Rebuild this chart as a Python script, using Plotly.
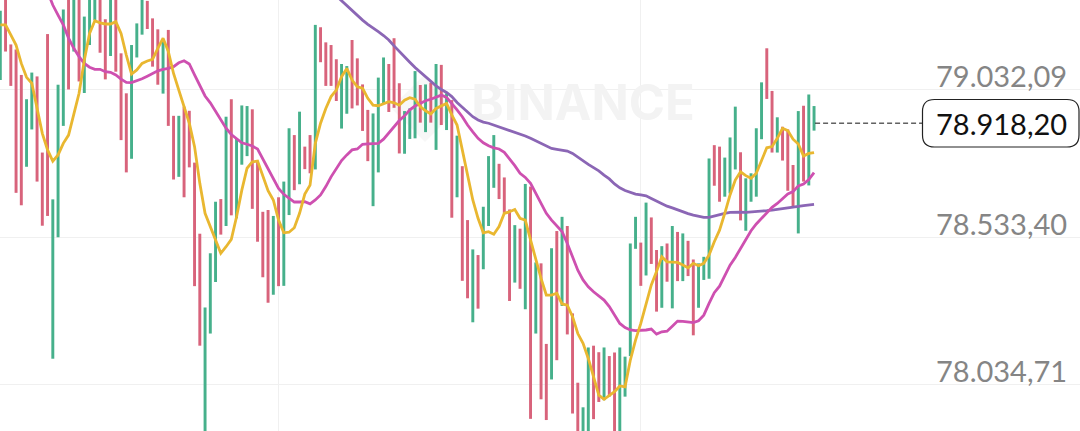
import plotly.graph_objects as go

# Price bars, one open/close pair per bar (first bar at the left edge)
bar_open = [
    79064, 79380, 79184, 79167, 79081, 78771, 78897, 79076, 78819, 79219,
    78123, 78533, 78909, 79400, 79160, 79370, 79020, 79182, 79266, 79390,
    79269, 79145, 79400, 79154, 79019, 78798, 79140, 79217, 79331, 79272,
    79235, 79018, 79233, 78943, 78737, 78974, 78960, 78785, 78545, 77840,
    78208, 78382, 78662, 78571, 78999, 78597, 78778, 78807, 78965, 78788,
    78619, 78625, 78339, 78668, 78369, 78608, 78878, 78712, 78839, 78878,
    78762, 79242, 79191, 79182, 79134, 78900, 78950, 79199, 79137, 79049,
    78963, 78638, 78752, 78985, 79118, 79205, 79053, 78815, 78865, 78867,
    79047, 78888, 79055, 78828, 79115, 78895, 78996, 78668, 78773, 78591,
    78246, 78473, 78425, 78571, 78700, 78781, 78735, 78627, 78380, 78562,
    78290, 78704, 78208, 78445, 78173, 78053, 78554, 78301, 78571, 78276,
    78042, 77840, 77850, 78167, 78145, 77983, 78132, 78144, 77840, 77995,
    78132, 78494, 78515, 78404, 78600, 78490, 78295, 78512, 78293, 78551,
    78385, 78521, 78458, 78295, 78389, 78393, 78844, 78839, 78670, 78681,
    78762, 78820, 78555, 78653, 78670, 78864, 79171, 79027, 78819, 78906,
    78897, 78777, 78546, 78977, 78708, 78893,
]
bar_close = [
    79298, 79160, 79044, 78683, 78641, 78999, 79089, 78721, 78572, 78605,
    78661, 79048, 79302, 79032, 79390, 79059, 79278, 79380, 79380, 79156,
    79066, 79380, 79092, 78861, 78752, 79182, 79255, 79370, 79236, 79109,
    79048, 79193, 78909, 78728, 78943, 78668, 78769, 78368, 78167, 78296,
    78479, 78653, 78542, 78940, 78607, 78867, 78978, 78976, 78629, 78518,
    78398, 78312, 78605, 78368, 78721, 78901, 78692, 78957, 78763, 78749,
    79250, 79124, 79044, 79044, 78993, 79118, 79111, 78968, 78978, 78892,
    78790, 78951, 79072, 79140, 78956, 78970, 78816, 78959, 78968, 79094,
    78920, 79049, 78920, 79118, 78912, 79019, 78599, 78876, 78386, 78327,
    78492, 78292, 78636, 78807, 78878, 78662, 78614, 78318, 78574, 78359,
    78713, 77920, 78448, 77986, 77916, 78496, 78118, 78602, 78205, 77938,
    77840, 77959, 78161, 77919, 77977, 78161, 77995, 77840, 78161, 78130,
    78512, 78602, 78369, 78650, 78443, 78282, 78503, 78383, 78571, 78385,
    78546, 78402, 78202, 78445, 78467, 78799, 78707, 78653, 78802, 78870,
    78974, 78590, 78732, 78749, 78901, 79056, 79000, 78819, 78938, 78792,
    78690, 78636, 78959, 78721, 79015, 78976,
]

# Moving averages, each one ends on the last bar
ma_fast = [
    79250, 79250, 79216, 79182, 79120, 79073, 79053, 78968, 78884, 78828,
    78790, 78811, 78850, 78878, 78946, 79019, 79131, 79221, 79264, 79257,
    79253, 79253, 79261, 79221, 79148, 79084, 79098, 79120, 79128, 79134,
    79171, 79205, 79160, 79086, 79030, 78974, 78918, 78839, 78715, 78614,
    78569, 78518, 78479, 78501, 78526, 78602, 78692, 78766, 78788, 78790,
    78737, 78690, 78659, 78591, 78548, 78550, 78565, 78614, 78679, 78709,
    78850, 78918, 78968, 79008, 79030, 79075, 79103, 79064, 79041, 79036,
    79002, 78979, 78977, 78983, 78991, 78987, 78979, 78996, 79004, 78999,
    78974, 78960, 78949, 78968, 78976, 78985, 78946, 78912, 78828, 78737,
    78659, 78597, 78548, 78552, 78543, 78569, 78614, 78619, 78627, 78597,
    78591, 78524, 78456, 78394, 78338, 78338, 78344, 78308, 78304, 78265,
    78208, 78175, 78124, 78062, 78000, 77986, 77998, 78012, 78031, 78028,
    78118, 78186, 78242, 78310, 78372, 78417, 78467, 78450, 78448, 78448,
    78439, 78430, 78445, 78437, 78445, 78473, 78518, 78557, 78614, 78676,
    78726, 78754, 78741, 78732, 78749, 78794, 78835, 78839, 78867, 78901,
    78893, 78864, 78848, 78807, 78816, 78819,
]
ma_mid = [
    79362, 79317, 79283, 79250, 79205, 79171, 79143, 79120, 79107, 79100,
    79100, 79092, 79090, 79081, 79067, 79056, 79055, 79061, 79068, 79077,
    79086, 79095, 79100, 79103, 79109, 79122, 79129, 79118, 79081, 79044,
    79010, 78987, 78957, 78927, 78901, 78880, 78865, 78852, 78847, 78841,
    78831, 78799, 78766, 78732, 78698, 78678, 78664, 78652, 78652, 78653,
    78646, 78659, 78676, 78704, 78737, 78766, 78792, 78811, 78828, 78831,
    78847, 78848, 78848, 78850, 78864, 78884, 78906, 78927, 78943, 78963,
    78976, 78985, 78994, 78999, 79005, 79013, 79005, 78985, 78963, 78940,
    78912, 78889, 78867, 78852, 78842, 78835, 78831, 78820, 78799, 78775,
    78749, 78735, 78715, 78681, 78647, 78614, 78591, 78572, 78552, 78512,
    78467, 78422, 78389, 78366, 78349, 78335, 78321, 78299, 78270, 78242,
    78228, 78220, 78218, 78218, 78220, 78223, 78206, 78214, 78216, 78233,
    78250, 78249, 78248, 78245, 78251, 78270, 78310, 78346, 78368, 78405,
    78439, 78465, 78496, 78527, 78555, 78578, 78597, 78616, 78634, 78647,
    78664, 78679, 78687, 78706, 78713, 78728, 78751,
]
ma_slow = [
    79348, 79331, 79317, 79300, 79283, 79266, 79252, 79238, 79227, 79214,
    79199, 79179, 79160, 79140, 79124, 79106, 79090, 79073, 79058, 79044,
    79032, 79022, 79008, 78988, 78972, 78955, 78940, 78929, 78922, 78918,
    78912, 78905, 78898, 78893, 78886, 78880, 78875, 78867, 78859, 78850,
    78841, 78833, 78830, 78828, 78824, 78816, 78803, 78790, 78779, 78768,
    78757, 78743, 78730, 78713, 78700, 78691, 78685, 78679, 78676, 78673,
    78664, 78655, 78646, 78638, 78632, 78625, 78618, 78613, 78608, 78604,
    78600, 78600, 78605, 78609, 78614, 78617, 78618, 78618, 78617, 78618,
    78619, 78620, 78623, 78625, 78627, 78631, 78633, 78635, 78637, 78640,
    78641, 78644,
]

price_ticks = [79032.09, 78533.40, 78034.71]
price_labels = ['79.032,09', '78.533,40', '78.034,71']
time_ticks = [53, 122]
last_price = 78918.20
last_label = '78.918,20'

GREEN = '#46B08B'
RED = '#D8637B'
W, H = 1080, 431

bar_index = list(range(len(bar_open)))
bar_colors = [GREEN if c >= o else RED for o, c in zip(bar_open, bar_close)]
bar_height = [abs(c - o) for o, c in zip(bar_open, bar_close)]
bar_base = [min(o, c) for o, c in zip(bar_open, bar_close)]

fig = go.Figure()

fig.add_trace(go.Bar(x=bar_index, y=bar_height, base=bar_base,
                     width=0.56, marker=dict(color=bar_colors, line_width=0)))

# Watermark goes in first so the lines sit on top of it
fig.add_trace(go.Scatter(x=[111], y=[78971], mode='text', text=['BINANCE'],
                         textfont=dict(family='Inter', size=49, color='#F3F3F3',
                                       weight='bold')))

for ma, color in [(ma_slow, '#8B66B5'), (ma_mid, '#CE50B0'), (ma_fast, '#E9B730')]:
    fig.add_trace(go.Scatter(x=bar_index[-len(ma):], y=ma, mode='lines',
                             line=dict(color=color, width=2.8)))

fig.update_layout(width=W, height=H, showlegend=False,
                  margin=dict(l=0, r=0, t=0, b=0),
                  paper_bgcolor='white', plot_bgcolor='white',
                  xaxis=dict(range=[-0.06, 205.66], tickvals=time_ticks,
                             showticklabels=False, ticks='', zeroline=False,
                             gridcolor='#F0F0F0', gridwidth=1),
                  yaxis=dict(range=[77879, 79334], tickvals=price_ticks,
                             showticklabels=False, ticks='', zeroline=False,
                             gridcolor='#F0F0F0', gridwidth=1))

# Price labels sit just above their grid lines
for val, txt in zip(price_ticks, price_labels):
    fig.add_annotation(x=1069 / W, xref='paper', xanchor='right', y=val, yref='y',
                       yanchor='middle', yshift=14, text=txt, showarrow=False,
                       font=dict(family='Lato', size=29, color='#858585'))

# Last price: dashed leader and rounded box
fig.add_shape(type='line', x0=bar_index[-1] + 0.2, x1=175.6, y0=last_price, y1=last_price,
              xref='x', yref='y', line=dict(color='#111111', width=1, dash='5px,3px'))

x0, x1, y0, y1, r = 922.5 / W, 1079 / W, 1 - 147 / H, 1 - 99.5 / H, 12
rx, ry = r / W, r / H
box = (f'M {x0 + rx} {y0} L {x1 - rx} {y0} Q {x1} {y0} {x1} {y0 + ry} '
       f'L {x1} {y1 - ry} Q {x1} {y1} {x1 - rx} {y1} '
       f'L {x0 + rx} {y1} Q {x0} {y1} {x0} {y1 - ry} '
       f'L {x0} {y0 + ry} Q {x0} {y0} {x0 + rx} {y0} Z')
fig.add_shape(type='path', path=box, xref='paper', yref='paper',
              fillcolor='white', line=dict(color='#222222', width=1.2))
fig.add_annotation(x=1069 / W, xref='paper', xanchor='right', y=last_price, yref='y',
                   yanchor='middle', text=last_label, showarrow=False,
                   font=dict(family='Lato', size=29, color='#111111'))

# Faint logo left of the watermark text
lx, ly, lw, lh = 425 / W, 1 - 108 / H, 34 / W, 34 / H
logo = f'M {lx - lw} {ly} L {lx} {ly + lh} L {lx + lw} {ly} L {lx} {ly - lh} Z'
fig.add_shape(type='path', path=logo, xref='paper', yref='paper', layer='below',
              fillcolor='#F7F7F7', line_width=0)

fig.write_html("out.html", config={'displayModeBar': False},
               post_script="document.body.style.margin='0';")
